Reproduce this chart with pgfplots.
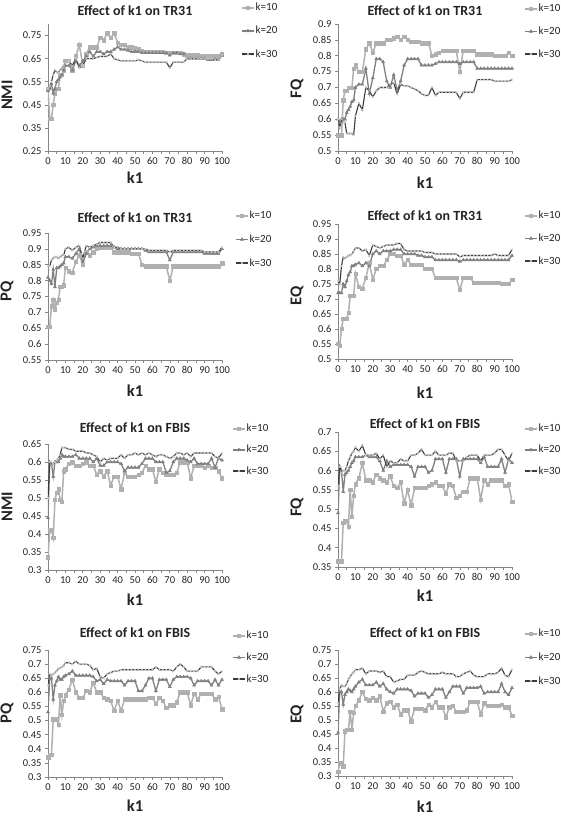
\documentclass[border=0pt]{standalone}
\usepackage{fontspec}
\setmainfont{Carlito}
\usepackage{pgfplots}
\usepackage{pgfplotstable}
\pgfplotsset{compat=1.18}
\definecolor{c10}{RGB}{176,176,176}
\definecolor{c20}{RGB}{128,128,128}
\definecolor{c30}{RGB}{58,58,58}
\definecolor{c30m}{RGB}{205,205,205}
\definecolor{axg}{RGB}{134,134,134}
\definecolor{txt}{RGB}{35,35,35}

\pgfplotstableread{
x a b c
0 0.52 0.51 0.52
1 0.39 0.52 0.53
2 0.39 0.54 0.55
3 0.45 0.50 0.58
4 0.50 0.52 0.60
5 0.52 0.55 0.59
6 0.52 0.56 0.59
7 0.58 0.57 0.60
8 0.58 0.58 0.61
9 0.60 0.60 0.62
10 0.64 0.62 0.63
12 0.64 0.62 0.64
14 0.60 0.60 0.62
16 0.66 0.64 0.65
18 0.71 0.62 0.61
20 0.62 0.64 0.62
22 0.67 0.66 0.65
24 0.70 0.68 0.65
26 0.70 0.66 0.65
28 0.70 0.68 0.655
30 0.74 0.68 0.66
32 0.73 0.67 0.66
34 0.76 0.68 0.66
36 0.74 0.68 0.67
38 0.76 0.69 0.65
40 0.72 0.70 0.645
42 0.71 0.69 0.64
44 0.71 0.69 0.64
46 0.70 0.685 0.64
48 0.70 0.68 0.64
50 0.695 0.68 0.64
52 0.69 0.68 0.645
54 0.685 0.675 0.64
56 0.68 0.675 0.635
58 0.68 0.675 0.635
60 0.68 0.675 0.635
62 0.68 0.675 0.635
64 0.68 0.675 0.635
66 0.68 0.675 0.635
68 0.675 0.675 0.635
70 0.675 0.665 0.61
72 0.675 0.675 0.635
74 0.675 0.675 0.635
76 0.675 0.67 0.635
78 0.67 0.67 0.635
80 0.665 0.65 0.65
82 0.665 0.65 0.65
84 0.665 0.65 0.65
86 0.665 0.65 0.65
88 0.66 0.65 0.65
90 0.66 0.65 0.65
92 0.66 0.645 0.65
94 0.66 0.645 0.65
96 0.66 0.645 0.645
98 0.66 0.645 0.645
100 0.67 0.665 0.665
}\tA

\pgfplotstableread{
x a b c
0 0.55 0.60 0.60
1 0.55 0.59 0.575
2 0.55 0.60 0.60
3 0.66 0.60 0.59
4 0.69 0.60 0.59
5 0.69 0.62 0.555
6 0.70 0.63 0.555
7 0.70 0.64 0.555
8 0.70 0.655 0.555
9 0.76 0.66 0.55
10 0.77 0.70 0.61
12 0.75 0.71 0.65
14 0.75 0.71 0.63
16 0.82 0.76 0.70
18 0.84 0.68 0.69
20 0.81 0.73 0.67
22 0.84 0.79 0.69
24 0.84 0.79 0.70
26 0.84 0.78 0.70
28 0.85 0.72 0.70
30 0.85 0.70 0.71
32 0.855 0.74 0.715
34 0.86 0.69 0.68
36 0.85 0.72 0.71
38 0.86 0.77 0.705
40 0.85 0.79 0.705
42 0.845 0.79 0.70
44 0.845 0.79 0.695
46 0.845 0.79 0.69
48 0.84 0.77 0.68
50 0.84 0.77 0.675
52 0.84 0.77 0.675
54 0.80 0.77 0.70
56 0.805 0.775 0.675
58 0.81 0.78 0.685
60 0.815 0.78 0.685
62 0.815 0.78 0.685
64 0.815 0.78 0.685
66 0.815 0.78 0.685
68 0.815 0.78 0.685
70 0.75 0.775 0.665
72 0.815 0.78 0.685
74 0.815 0.78 0.685
76 0.815 0.78 0.685
78 0.815 0.78 0.685
80 0.805 0.76 0.725
82 0.805 0.76 0.725
84 0.805 0.76 0.725
86 0.805 0.76 0.725
88 0.805 0.76 0.725
90 0.80 0.76 0.72
92 0.80 0.76 0.72
94 0.80 0.76 0.72
96 0.80 0.76 0.72
98 0.81 0.76 0.72
100 0.80 0.76 0.725
}\tB

\pgfplotstableread{
x a b c
0 0.655 0.81 0.845
1 0.655 0.80 0.845
2 0.72 0.79 0.865
3 0.74 0.835 0.87
4 0.71 0.78 0.875
5 0.73 0.84 0.875
6 0.74 0.84 0.87
7 0.78 0.845 0.875
8 0.78 0.85 0.88
9 0.785 0.855 0.88
10 0.84 0.875 0.90
12 0.83 0.875 0.905
14 0.825 0.87 0.895
16 0.86 0.885 0.905
18 0.88 0.90 0.91
20 0.85 0.86 0.87
22 0.89 0.885 0.91
24 0.88 0.90 0.905
26 0.89 0.905 0.91
28 0.90 0.91 0.915
30 0.905 0.91 0.92
32 0.905 0.91 0.92
34 0.905 0.91 0.92
36 0.905 0.91 0.92
38 0.89 0.905 0.905
40 0.89 0.90 0.905
42 0.89 0.90 0.90
44 0.89 0.90 0.90
46 0.89 0.90 0.90
48 0.885 0.90 0.90
50 0.885 0.90 0.90
52 0.885 0.90 0.90
54 0.85 0.90 0.90
56 0.845 0.895 0.90
58 0.845 0.89 0.895
60 0.845 0.89 0.895
62 0.845 0.89 0.895
64 0.845 0.89 0.895
66 0.845 0.89 0.895
68 0.845 0.89 0.895
70 0.80 0.865 0.89
72 0.845 0.89 0.895
74 0.845 0.89 0.895
76 0.845 0.89 0.895
78 0.845 0.89 0.895
80 0.845 0.89 0.895
82 0.845 0.89 0.895
84 0.845 0.89 0.895
86 0.845 0.89 0.895
88 0.845 0.89 0.895
90 0.845 0.885 0.89
92 0.845 0.885 0.89
94 0.845 0.885 0.89
96 0.845 0.885 0.89
98 0.845 0.885 0.89
100 0.855 0.90 0.905
}\tC

\pgfplotstableread{
x a b c
0 0.55 0.72 0.76
1 0.545 0.72 0.75
2 0.60 0.72 0.81
3 0.635 0.75 0.84
4 0.635 0.74 0.835
5 0.635 0.76 0.84
6 0.655 0.78 0.845
7 0.71 0.79 0.845
8 0.71 0.81 0.85
9 0.71 0.81 0.86
10 0.785 0.815 0.87
12 0.74 0.82 0.87
14 0.735 0.81 0.86
16 0.77 0.82 0.865
18 0.82 0.81 0.845
20 0.765 0.85 0.88
22 0.80 0.86 0.875
24 0.81 0.85 0.87
26 0.81 0.86 0.875
28 0.83 0.86 0.88
30 0.85 0.86 0.88
32 0.85 0.865 0.88
34 0.845 0.865 0.885
36 0.845 0.865 0.885
38 0.815 0.85 0.865
40 0.83 0.85 0.86
42 0.815 0.85 0.86
44 0.815 0.85 0.86
46 0.815 0.845 0.86
48 0.815 0.845 0.86
50 0.80 0.84 0.855
52 0.80 0.84 0.855
54 0.80 0.84 0.855
56 0.77 0.83 0.85
58 0.77 0.83 0.85
60 0.77 0.83 0.85
62 0.77 0.83 0.85
64 0.77 0.83 0.85
66 0.77 0.83 0.85
68 0.77 0.83 0.85
70 0.73 0.825 0.84
72 0.77 0.83 0.845
74 0.77 0.83 0.845
76 0.77 0.83 0.845
78 0.755 0.83 0.845
80 0.755 0.83 0.845
82 0.755 0.83 0.845
84 0.755 0.83 0.845
86 0.755 0.83 0.845
88 0.755 0.83 0.845
90 0.755 0.83 0.85
92 0.755 0.83 0.845
94 0.75 0.83 0.845
96 0.75 0.83 0.845
98 0.75 0.83 0.845
100 0.765 0.845 0.865
}\tD

\pgfplotstableread{
x a b c
0 0.335 0.445 0.50
1 0.41 0.60 0.60
2 0.41 0.595 0.59
3 0.39 0.56 0.595
4 0.495 0.60 0.60
5 0.515 0.60 0.605
6 0.525 0.60 0.61
7 0.495 0.61 0.62
8 0.49 0.62 0.64
9 0.575 0.615 0.64
10 0.58 0.615 0.64
12 0.595 0.615 0.635
14 0.60 0.615 0.635
16 0.59 0.62 0.63
18 0.59 0.61 0.63
20 0.595 0.61 0.63
22 0.60 0.61 0.625
24 0.59 0.61 0.625
26 0.59 0.60 0.62
28 0.565 0.61 0.615
30 0.575 0.59 0.60
32 0.56 0.59 0.61
34 0.575 0.60 0.605
36 0.535 0.60 0.61
38 0.56 0.60 0.61
40 0.56 0.60 0.61
42 0.525 0.595 0.62
44 0.57 0.575 0.61
46 0.56 0.585 0.62
48 0.56 0.585 0.62
50 0.56 0.585 0.625
52 0.565 0.585 0.62
54 0.57 0.595 0.625
56 0.59 0.61 0.62
58 0.58 0.61 0.625
60 0.58 0.61 0.62
62 0.545 0.60 0.615
64 0.58 0.60 0.62
66 0.57 0.60 0.62
68 0.565 0.57 0.615
70 0.565 0.575 0.61
72 0.565 0.60 0.615
74 0.57 0.61 0.625
76 0.60 0.61 0.625
78 0.60 0.61 0.62
80 0.60 0.605 0.625
82 0.555 0.60 0.615
84 0.59 0.61 0.625
86 0.59 0.595 0.625
88 0.59 0.595 0.625
90 0.585 0.595 0.625
92 0.59 0.595 0.625
94 0.585 0.61 0.625
96 0.585 0.585 0.615
98 0.575 0.61 0.61
100 0.555 0.605 0.625
}\tE

\pgfplotstableread{
x a b c
0 0.365 0.49 0.56
1 0.365 0.61 0.61
2 0.365 0.60 0.595
3 0.465 0.545 0.60
4 0.47 0.59 0.60
5 0.47 0.595 0.61
6 0.455 0.60 0.625
7 0.55 0.61 0.635
8 0.48 0.62 0.645
9 0.535 0.625 0.65
10 0.565 0.635 0.66
12 0.58 0.635 0.65
14 0.62 0.635 0.665
16 0.575 0.64 0.64
18 0.575 0.635 0.64
20 0.57 0.635 0.64
22 0.59 0.635 0.645
24 0.58 0.625 0.63
26 0.575 0.60 0.64
28 0.57 0.625 0.61
30 0.585 0.61 0.625
32 0.56 0.615 0.62
34 0.555 0.615 0.62
36 0.57 0.615 0.63
38 0.515 0.615 0.625
40 0.55 0.615 0.625
42 0.51 0.61 0.64
44 0.555 0.585 0.64
46 0.555 0.61 0.645
48 0.555 0.61 0.655
50 0.555 0.61 0.64
52 0.56 0.595 0.64
54 0.565 0.60 0.64
56 0.57 0.63 0.65
58 0.56 0.63 0.64
60 0.56 0.63 0.64
62 0.54 0.595 0.64
64 0.565 0.63 0.645
66 0.56 0.63 0.645
68 0.53 0.63 0.625
70 0.535 0.585 0.625
72 0.545 0.63 0.625
74 0.545 0.63 0.635
76 0.58 0.63 0.64
78 0.58 0.63 0.64
80 0.58 0.63 0.64
82 0.525 0.62 0.625
84 0.575 0.635 0.64
86 0.565 0.61 0.64
88 0.575 0.61 0.64
90 0.575 0.61 0.645
92 0.575 0.61 0.655
94 0.575 0.63 0.655
96 0.56 0.595 0.64
98 0.565 0.63 0.625
100 0.52 0.62 0.645
}\tF

\pgfplotstableread{
x a b c
0 0.37 0.53 0.625
1 0.38 0.65 0.665
2 0.38 0.65 0.66
3 0.505 0.575 0.665
4 0.505 0.625 0.67
5 0.505 0.64 0.675
6 0.485 0.655 0.685
7 0.59 0.645 0.685
8 0.52 0.645 0.69
9 0.57 0.655 0.695
10 0.59 0.66 0.705
12 0.61 0.665 0.705
14 0.645 0.675 0.70
16 0.60 0.66 0.71
18 0.58 0.66 0.70
20 0.58 0.66 0.70
22 0.605 0.66 0.70
24 0.60 0.66 0.695
26 0.635 0.655 0.68
28 0.60 0.64 0.685
30 0.60 0.645 0.655
32 0.58 0.63 0.65
34 0.575 0.645 0.665
36 0.57 0.64 0.67
38 0.535 0.64 0.675
40 0.57 0.64 0.675
42 0.535 0.64 0.68
44 0.575 0.625 0.68
46 0.575 0.64 0.68
48 0.575 0.64 0.68
50 0.575 0.64 0.68
52 0.575 0.605 0.68
54 0.575 0.605 0.68
56 0.575 0.625 0.68
58 0.58 0.65 0.68
60 0.58 0.65 0.68
62 0.56 0.605 0.69
64 0.58 0.645 0.68
66 0.57 0.645 0.68
68 0.545 0.645 0.68
70 0.555 0.62 0.68
72 0.555 0.645 0.675
74 0.565 0.655 0.69
76 0.60 0.655 0.70
78 0.60 0.655 0.69
80 0.60 0.655 0.675
82 0.555 0.65 0.675
84 0.595 0.625 0.675
86 0.575 0.64 0.675
88 0.595 0.64 0.69
90 0.595 0.64 0.69
92 0.595 0.64 0.69
94 0.595 0.625 0.69
96 0.575 0.645 0.675
98 0.585 0.625 0.665
100 0.54 0.645 0.675
}\tG

\pgfplotstableread{
x a b c
0 0.315 0.455 0.56
1 0.345 0.60 0.61
2 0.345 0.60 0.625
3 0.335 0.555 0.62
4 0.46 0.59 0.62
5 0.465 0.60 0.63
6 0.465 0.61 0.645
7 0.53 0.605 0.655
8 0.465 0.60 0.665
9 0.525 0.61 0.67
10 0.55 0.62 0.68
12 0.57 0.635 0.68
14 0.60 0.645 0.685
16 0.575 0.625 0.665
18 0.57 0.625 0.675
20 0.58 0.625 0.675
22 0.57 0.635 0.675
24 0.585 0.62 0.67
26 0.53 0.63 0.675
28 0.56 0.61 0.655
30 0.565 0.60 0.655
32 0.545 0.595 0.635
34 0.555 0.61 0.64
36 0.52 0.61 0.645
38 0.535 0.61 0.645
40 0.535 0.61 0.66
42 0.495 0.605 0.66
44 0.54 0.585 0.66
46 0.54 0.595 0.67
48 0.54 0.595 0.675
50 0.535 0.595 0.67
52 0.555 0.58 0.665
54 0.545 0.59 0.665
56 0.565 0.61 0.665
58 0.545 0.61 0.665
60 0.545 0.61 0.67
62 0.51 0.58 0.665
64 0.545 0.60 0.665
66 0.55 0.62 0.665
68 0.53 0.62 0.655
70 0.53 0.62 0.655
72 0.53 0.595 0.665
74 0.535 0.615 0.67
76 0.565 0.615 0.675
78 0.565 0.615 0.66
80 0.565 0.615 0.655
82 0.52 0.62 0.655
84 0.56 0.595 0.655
86 0.55 0.60 0.665
88 0.55 0.60 0.665
90 0.55 0.60 0.665
92 0.55 0.60 0.67
94 0.555 0.63 0.685
96 0.545 0.60 0.66
98 0.545 0.59 0.655
100 0.515 0.615 0.68
}\tH

\pgfplotsset{
  base/.style={
    scale only axis, width=174pt, xmin=0, xmax=100,
    axis lines*=left,
    axis line style={draw=axg, line width=0.8pt, -},
    every tick/.style={draw=axg, line width=0.6pt},
    tick align=outside, major tick length=3pt, minor tick length=3pt,
    xtick={0,10,...,100}, minor x tick num=1,
    tick label style={font=\fontsize{10.5}{12}\selectfont, text=txt},
    /pgf/number format/assume math mode=true,
    yticklabel style={/pgf/number format/.cd, fixed, precision=2},
    xlabel={k1},
    label style={font=\bfseries\fontsize{16.5}{18}\selectfont, text=txt},
    title style={font=\bfseries\fontsize{14}{16}\selectfont, text=txt, at={(axis description cs:0.5,1)}, anchor=center},
    legend cell align=left,
    legend style={draw=none, fill=none, inner sep=0pt, at={(axis description cs:1,1)}, anchor=north west,
      font=\fontsize{11}{12}\selectfont, nodes={inner sep=1pt, text=txt}},
    legend image code/.code={\draw[mark repeat=2,mark phase=2,##1] plot coordinates {(0pt,0pt) (6pt,0pt) (12pt,0pt)};},
  },
  k10/.style={color=c10, line width=1.5pt, mark=square*, mark size=1.7pt, mark options={fill=c10, draw=c10, line width=0.4pt}},
  k20/.style={color=c20, line width=1.3pt, mark=triangle*, mark size=1.8pt, mark options={fill=c20, draw=c20, line width=0.4pt}},
  k30/.style={color=c30, line width=1.1pt, mark=x, mark size=1.5pt, mark options={draw=c30m, line width=0.5pt}},
}

\begin{document}
\begin{tikzpicture}
\useasboundingbox (0,0) rectangle (560pt,817pt);

% P1
\begin{axis}[base, at={(48pt,666pt)}, anchor=south west, height=127pt,
  ymin=0.25, ymax=0.8, ytick={0.25,0.35,0.45,0.55,0.65,0.75},
  title={Effect of k1 on TR31}, title style={yshift=7pt},
  ylabel={NMI}, ylabel style={at={(axis description cs:-0.236,0.44)}, anchor=center},
  xlabel style={at={(axis description cs:0.5,0)}, anchor=center, yshift=-27pt},
  legend style={xshift=19pt, yshift=22pt, row sep=12pt}]
\addplot[k10] table[x=x,y=a]{\tA};
\addplot[k20] table[x=x,y=b]{\tA};
\addplot[k30] table[x=x,y=c]{\tA};
\legend{k=10,k=20,k=30}
\end{axis}

% P2
\begin{axis}[base, at={(338pt,666pt)}, anchor=south west, height=127pt,
  ymin=0.5, ymax=0.9, ytick={0.5,0.55,0.6,0.65,0.7,0.75,0.8,0.85,0.9},
  title={Effect of k1 on TR31}, title style={yshift=7pt},
  ylabel={FQ}, ylabel style={at={(axis description cs:-0.236,0.49)}, anchor=center},
  xlabel style={at={(axis description cs:0.5,0)}, anchor=center, yshift=-32pt},
  legend style={xshift=12pt, yshift=21pt, row sep=11.5pt}]
\addplot[k10] table[x=x,y=a]{\tB};
\addplot[k20] table[x=x,y=b]{\tB};
\addplot[k30] table[x=x,y=c]{\tB};
\legend{k=10,k=20,k=30}
\end{axis}

% P3
\begin{axis}[base, at={(48pt,457pt)}, anchor=south west, height=127pt,
  ymin=0.55, ymax=0.95, ytick={0.55,0.6,0.65,0.7,0.75,0.8,0.85,0.9,0.95},
  title={Effect of k1 on TR31}, title style={yshift=9pt},
  ylabel={PQ}, ylabel style={at={(axis description cs:-0.236,0.54)}, anchor=center},
  xlabel style={at={(axis description cs:0.5,0)}, anchor=center, yshift=-31pt},
  legend style={xshift=13pt, yshift=23pt, row sep=12.5pt}]
\addplot[k10] table[x=x,y=a]{\tC};
\addplot[k20] table[x=x,y=b]{\tC};
\addplot[k30] table[x=x,y=c]{\tC};
\legend{k=10,k=20,k=30}
\end{axis}

% P4
\begin{axis}[base, at={(338pt,458pt)}, anchor=south west, height=135pt,
  ymin=0.5, ymax=0.95, ytick={0.5,0.55,0.6,0.65,0.7,0.75,0.8,0.85,0.9,0.95},
  title={Effect of k1 on TR31}, title style={yshift=2pt},
  ylabel={EQ}, ylabel style={at={(axis description cs:-0.236,0.47)}, anchor=center},
  xlabel style={at={(axis description cs:0.5,0)}, anchor=center, yshift=-34pt},
  legend style={xshift=12pt, yshift=14pt, row sep=11.5pt}]
\addplot[k10] table[x=x,y=a]{\tD};
\addplot[k20] table[x=x,y=b]{\tD};
\addplot[k30] table[x=x,y=c]{\tD};
\legend{k=10,k=20,k=30}
\end{axis}

% P5
\begin{axis}[base, at={(48pt,247pt)}, anchor=south west, height=126pt,
  ymin=0.3, ymax=0.65, ytick={0.3,0.35,0.4,0.45,0.5,0.55,0.6,0.65},
  title={Effect of k1 on FBIS}, title style={yshift=10pt},
  ylabel={NMI}, ylabel style={at={(axis description cs:-0.236,0.5)}, anchor=center},
  xlabel style={at={(axis description cs:0.5,0)}, anchor=center, yshift=-30pt},
  legend style={xshift=10pt, yshift=21pt, row sep=10pt}]
\addplot[k10] table[x=x,y=a]{\tE};
\addplot[k20] table[x=x,y=b]{\tE};
\addplot[k30] table[x=x,y=c]{\tE};
\legend{k=10,k=20,k=30}
\end{axis}

% P6
\begin{axis}[base, at={(338pt,250pt)}, anchor=south west, height=135pt,
  ymin=0.35, ymax=0.7, ytick={0.35,0.4,0.45,0.5,0.55,0.6,0.65,0.7},
  title={Effect of k1 on FBIS}, title style={yshift=2pt},
  ylabel={FQ}, ylabel style={at={(axis description cs:-0.236,0.44)}, anchor=center},
  xlabel style={at={(axis description cs:0.5,0)}, anchor=center, yshift=-29pt},
  legend style={xshift=12pt, yshift=9pt, row sep=10pt}]
\addplot[k10] table[x=x,y=a]{\tF};
\addplot[k20] table[x=x,y=b]{\tF};
\addplot[k30] table[x=x,y=c]{\tF};
\legend{k=10,k=20,k=30}
\end{axis}

% P7
\begin{axis}[base, at={(48pt,40pt)}, anchor=south west, height=127pt,
  ymin=0.3, ymax=0.75, ytick={0.3,0.35,0.4,0.45,0.5,0.55,0.6,0.65,0.7,0.75},
  title={Effect of k1 on FBIS}, title style={yshift=11pt},
  ylabel={PQ}, ylabel style={at={(axis description cs:-0.236,0.5)}, anchor=center},
  xlabel style={at={(axis description cs:0.5,0)}, anchor=center, yshift=-29pt},
  legend style={xshift=10pt, yshift=20pt, row sep=10.5pt}]
\addplot[k10] table[x=x,y=a]{\tG};
\addplot[k20] table[x=x,y=b]{\tG};
\addplot[k30] table[x=x,y=c]{\tG};
\legend{k=10,k=20,k=30}
\end{axis}

% P8
\begin{axis}[base, at={(338pt,41pt)}, anchor=south west, height=126pt,
  ymin=0.3, ymax=0.75, ytick={0.3,0.35,0.4,0.45,0.5,0.55,0.6,0.65,0.7,0.75},
  title={Effect of k1 on FBIS}, title style={yshift=11pt},
  ylabel={EQ}, ylabel style={at={(axis description cs:-0.236,0.49)}, anchor=center},
  xlabel style={at={(axis description cs:0.5,0)}, anchor=center, yshift=-31pt},
  legend style={xshift=12pt, yshift=22pt, row sep=12.5pt}]
\addplot[k10] table[x=x,y=a]{\tH};
\addplot[k20] table[x=x,y=b]{\tH};
\addplot[k30] table[x=x,y=c]{\tH};
\legend{k=10,k=20,k=30}
\end{axis}
\end{tikzpicture}
\end{document}
